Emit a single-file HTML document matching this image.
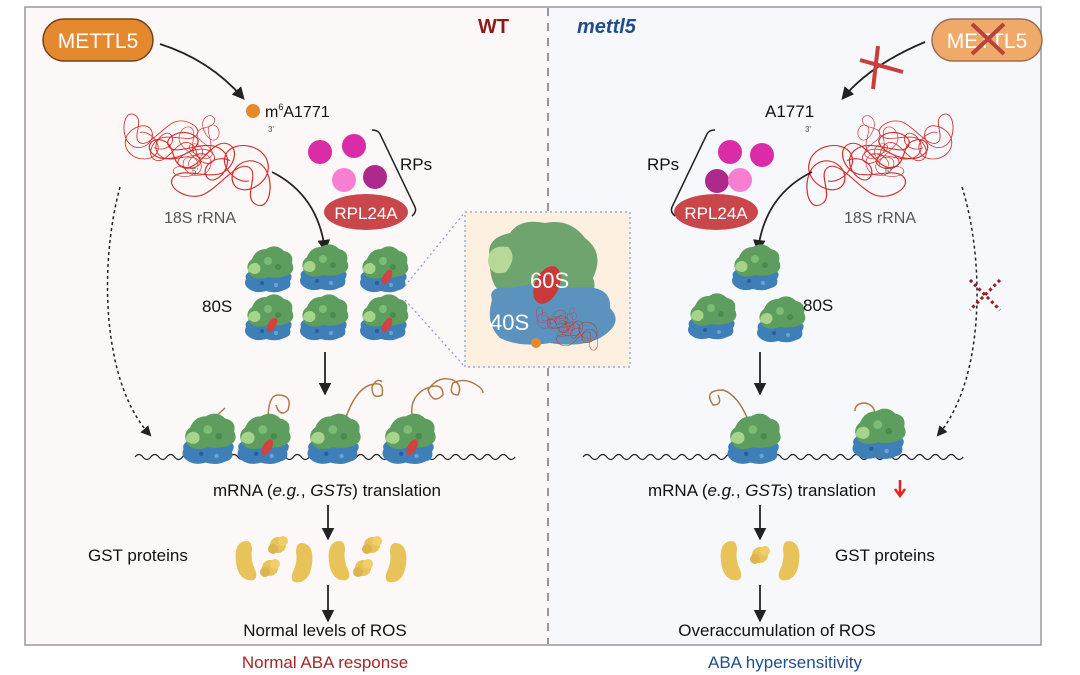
<!DOCTYPE html>
<html><head><meta charset="utf-8"><style>
html,body{margin:0;padding:0;background:#fff}
svg{display:block}
text{font-family:"Liberation Sans",sans-serif}
</style></head><body>
<svg width="1080" height="675" viewBox="0 0 1080 675" xmlns="http://www.w3.org/2000/svg">
<defs>
<marker id="ah" viewBox="0 0 10 10" refX="8" refY="5" markerWidth="7" markerHeight="7" orient="auto"><path d="M0,0L10,5L0,10z" fill="#222"/></marker>
<g id="rib">
 <path d="M-24,4 q-2,-6 6,-8 q8,-4 16,-1 q10,-3 20,2 q6,3 2,9 q2,7 -6,9 q-8,4 -18,1 q-10,3 -17,-2 q-6,-4 -3,-10z" fill="#3f7fb8"/>
 <circle cx="-8" cy="8" r="2" fill="#2c5f91"/><circle cx="6" cy="10" r="2" fill="#6aa3d4"/>
 <path d="M-20,0 q-6,-10 2,-16 q4,-10 14,-10 q10,-6 18,2 q10,2 8,12 q4,8 -4,12 q-10,4 -20,2 q-12,4 -18,-2z" fill="#5d9e5f"/>
 <path d="M-22,-4 q0,-8 8,-8 q6,2 4,8 q-4,6 -12,0z" fill="#a6d48a"/>
 <circle cx="-2" cy="-14" r="4" fill="#7cbc74"/><circle cx="8" cy="-8" r="3" fill="#4a8a4e"/>
</g>
<g id="ribR">
 <use href="#rib"/>
 <ellipse cx="2" cy="2" rx="4" ry="8" transform="rotate(30 2 2)" fill="#d2423f"/>
</g>
<g id="gst">
 <path d="M-8,-18 q10,-4 10,8 q-2,10 4,22 q2,10 -8,8 q-10,-2 -12,-18 q-2,-16 6,-20z" fill="#e8c35a"/>
</g>
<g id="gstb"><circle r="8" fill="#e8c35a"/><circle cx="5" cy="-4" r="5" fill="#f0cf6a"/><circle cx="-5" cy="4" r="5" fill="#ddb44e"/></g>
<path id="tangle" d="M0,0 c-20,-10 -40,10 -30,25 c10,15 40,-20 20,-40 c-20,-20 -60,10 -70,-5 c-10,-15 20,-30 35,-15 c15,15 -30,40 -50,30 c-20,-10 -10,-30 5,-25 c20,5 10,35 30,40 c20,5 35,-40 55,-35 c20,5 10,40 -10,45 c-20,5 -50,-10 -60,5 c-10,15 20,35 40,25 c20,-10 45,-50 60,-40 c15,10 -10,45 10,55 c20,10 25,-45 5,-60 c-20,-15 -45,10 -35,30 c10,20 50,0 45,-30 c-5,-30 -45,-35 -55,-15 c-10,20 15,45 30,40" fill="none" stroke="#d2302c" stroke-width="1.6"/>
<g id="tang2">
 <use href="#tangle" transform="translate(40,10) scale(0.8)"/>
 <use href="#tangle" transform="translate(-40,-5) rotate(180) scale(0.6)"/>
 <use href="#tangle" transform="translate(10,5) rotate(90) scale(0.45)"/>
</g>
<path id="mrna" d="M0,0 q4,-5 8,0 q4,5 8,0 q4,-5 8,0 q4,5 8,0 q4,-5 8,0 q4,5 8,0 q4,-5 8,0 q4,5 8,0 q4,-5 8,0 q4,5 8,0 q4,-5 8,0 q4,5 8,0 q4,-5 8,0 q4,5 8,0 q4,-5 8,0 q4,5 8,0 q4,-5 8,0 q4,5 8,0 q4,-5 8,0 q4,5 8,0 q4,-5 8,0 q4,5 8,0 q4,-5 8,0 q4,5 8,0 q4,-5 8,0 q4,5 8,0 q4,-5 8,0 q4,5 8,0 q4,-5 8,0 q4,5 8,0 q4,-5 8,0 q4,5 8,0 q4,-5 8,0 q4,5 8,0 q4,-5 8,0 q4,5 8,0 q4,-5 8,0 q4,5 8,0 q4,-5 8,0 q4,5 8,0 q4,-5 8,0 q4,5 8,0 q4,-5 8,0 q4,5 8,0 q4,-5 8,0 q4,5 8,0 q4,-5 8,0 q4,5 8,0" fill="none" stroke="#222" stroke-width="1.2"/>
</defs>

<rect x="25" y="7" width="523" height="638" fill="#fcf8f8"/>
<rect x="548" y="7" width="493" height="638" fill="#f7f8fc"/>
<rect x="25" y="7" width="1016" height="638" fill="none" stroke="#999" stroke-width="1.5"/>
<line x1="548" y1="8" x2="548" y2="644" stroke="#777" stroke-width="1.5" stroke-dasharray="8,7"/>

<text x="478" y="33" font-size="20" font-weight="bold" fill="#8b1a1a">WT</text>
<text x="577" y="33" font-size="20" font-weight="bold" font-style="italic" fill="#1f4e8c">mettl5</text>

<!-- LEFT -->
<rect x="43" y="19" width="110" height="42" rx="21" fill="#e5892f" stroke="#6e441c" stroke-width="1.5"/>
<text x="98" y="48" font-size="21" fill="#fff" text-anchor="middle">METTL5</text>
<path d="M160,44 Q210,60 243,98" fill="none" stroke="#222" stroke-width="1.8" marker-end="url(#ah)"/>
<g transform="translate(192,152) scale(0.95,0.85)"><use href="#tang2"/></g>
<circle cx="253" cy="111" r="7" fill="#e5892f"/>
<text x="265" y="117" font-size="16" fill="#111">m<tspan font-size="9" dy="-7">6</tspan><tspan dy="7">A1771</tspan></text>
<text x="268" y="132" font-size="8" fill="#555">3'</text>
<text x="192" y="174" font-size="8" fill="#555">5'</text>
<text x="200" y="223" font-size="16" fill="#555" text-anchor="middle">18S rRNA</text>
<circle cx="320" cy="152" r="12" fill="#d92ca6"/><circle cx="354" cy="146" r="12" fill="#d92ca6"/>
<circle cx="344" cy="180" r="12" fill="#f77fd2"/><circle cx="375" cy="177" r="12" fill="#ad2a8c"/>
<ellipse cx="366" cy="212" rx="42" ry="18" fill="#c9474a"/>
<text x="366" y="219" font-size="17" fill="#fff" text-anchor="middle">RPL24A</text>
<path d="M372,130 q6,0 8,4 l35,73 q2,5 -3,9" fill="none" stroke="#222" stroke-width="1.5"/>
<text x="400" y="170" font-size="17" fill="#111">RPs</text>
<path d="M272,172 Q318,195 325,250" fill="none" stroke="#222" stroke-width="1.8" marker-end="url(#ah)"/>
<use href="#rib" transform="translate(270,275)"/>
<use href="#rib" transform="translate(325,273)"/>
<use href="#ribR" transform="translate(385,275)"/>
<use href="#ribR" transform="translate(270,323)"/>
<use href="#rib" transform="translate(325,323)"/>
<use href="#ribR" transform="translate(385,323)"/>
<text x="202" y="312" font-size="17" fill="#111">80S</text>
<line x1="405" y1="286" x2="465" y2="212" stroke="#7f9fd8" stroke-width="1.2" stroke-dasharray="2,3"/>
<line x1="405" y1="300" x2="465" y2="367" stroke="#7f9fd8" stroke-width="1.2" stroke-dasharray="2,3"/>
<rect x="465" y="212" width="165" height="155" fill="#fdf0e0" stroke="#7f9fd8" stroke-width="1.2" stroke-dasharray="2,3"/>
<path d="M490,258 q-5,-20 20,-25 q10,-15 35,-10 q25,-5 40,15 q20,15 8,40 q8,20 -25,25 q-30,5 -55,-5 q-25,-5 -23,-40z" fill="#6ea56e"/>
<path d="M488,262 q0,-18 20,-15 q10,10 -2,25 q-15,5 -18,-10z" fill="#b8d89a"/>
<path d="M492,300 q-5,-15 20,-12 q30,-8 60,0 q40,-5 38,20 q15,15 -10,30 q-20,10 -50,5 q-30,5 -50,-5 q-15,-15 -8,-38z" fill="#5b93be"/>
<ellipse cx="547" cy="285" rx="12" ry="20" transform="rotate(25 547 285)" fill="#c9393a"/>
<g transform="translate(565,325) scale(0.4)"><use href="#tang2"/></g>
<circle cx="536" cy="343" r="5" fill="#e5892f"/>
<text x="530" y="288" font-size="22" fill="#fff">60S</text>
<text x="490" y="330" font-size="22" fill="#fff">40S</text>

<path d="M120,187 C100,260 100,380 150,435" fill="none" stroke="#222" stroke-width="1.5" stroke-dasharray="3,3" marker-end="url(#ah)"/>
<line x1="325" y1="352" x2="325" y2="393" stroke="#222" stroke-width="1.8" marker-end="url(#ah)"/>
<use href="#mrna" transform="translate(135,457) scale(0.99,1)"/>
<path d="M225,408 q-10,10 -20,15" fill="none" stroke="#b07a4a" stroke-width="1.5"/>
<path d="M268,420 q0,-25 10,-25 q15,0 10,15 q-8,8 -12,-5" fill="none" stroke="#b07a4a" stroke-width="1.5"/>
<path d="M345,420 q10,-30 25,-35 q15,-5 12,10 q-10,5 -10,-8 q5,-10 10,-5" fill="none" stroke="#b07a4a" stroke-width="1.5"/>
<path d="M413,420 q-5,-20 10,-30 q20,-10 20,5 q-10,10 -15,-5 q10,-15 25,-10 q10,5 5,15 q-10,0 -5,-12 q10,-5 20,0 q10,5 10,10" fill="none" stroke="#b07a4a" stroke-width="1.5"/>
<use href="#rib" transform="translate(210,445) scale(1.1)"/>
<use href="#ribR" transform="translate(265,445) scale(1.1)"/>
<use href="#rib" transform="translate(335,445) scale(1.1)"/>
<use href="#ribR" transform="translate(410,445) scale(1.1)"/>
<text x="327" y="496" font-size="17" fill="#111" text-anchor="middle">mRNA (<tspan font-style="italic">e.g.</tspan>, <tspan font-style="italic">GSTs</tspan>) translation</text>
<line x1="328" y1="505" x2="328" y2="538" stroke="#222" stroke-width="1.8" marker-end="url(#ah)"/>
<text x="88" y="561" font-size="17" fill="#111">GST proteins</text>
<use href="#gst" transform="translate(250,560)"/>
<use href="#gstb" transform="translate(278,545)"/><use href="#gstb" transform="translate(270,568)"/>
<use href="#gst" transform="translate(298,562) scale(-1,1)"/>
<use href="#gst" transform="translate(343,560)"/>
<use href="#gstb" transform="translate(372,545)"/><use href="#gstb" transform="translate(363,568)"/>
<use href="#gst" transform="translate(392,562) scale(-1,1)"/>
<line x1="328" y1="585" x2="328" y2="620" stroke="#222" stroke-width="1.8" marker-end="url(#ah)"/>
<text x="325" y="636" font-size="17" fill="#111" text-anchor="middle">Normal levels of ROS</text>
<text x="325" y="668" font-size="17" fill="#a02828" text-anchor="middle">Normal ABA response</text>

<!-- RIGHT -->
<rect x="932" y="19" width="110" height="42" rx="21" fill="#efaa6a" stroke="#9a7050" stroke-width="1.5"/>
<text x="987" y="48" font-size="21" fill="#fff" text-anchor="middle">METTL5</text>
<path d="M972,24 L1004,54 M1004,24 L972,54" stroke="#b8423e" stroke-width="4"/>
<path d="M925,42 Q870,65 843,98" fill="none" stroke="#222" stroke-width="1.8" marker-end="url(#ah)"/>
<path d="M860,60 L903,72 M878,46 L873,89" stroke="#c7403d" stroke-width="4"/>
<text x="765" y="117" font-size="17" fill="#111">A1771</text>
<text x="805" y="132" font-size="8" fill="#555">3'</text>
<g transform="translate(885,152) scale(-0.95,0.85)"><use href="#tang2"/></g>
<text x="885" y="174" font-size="8" fill="#555">5'</text>
<text x="880" y="223" font-size="16" fill="#555" text-anchor="middle">18S rRNA</text>
<circle cx="730" cy="152" r="12" fill="#d92ca6"/><circle cx="762" cy="155" r="12" fill="#d92ca6"/>
<circle cx="717" cy="181" r="12" fill="#ad2a8c"/><circle cx="740" cy="180" r="12" fill="#f77fd2"/>
<ellipse cx="716" cy="212" rx="42" ry="18" fill="#c9474a"/>
<text x="716" y="219" font-size="17" fill="#fff" text-anchor="middle">RPL24A</text>
<path d="M715,130 q-6,0 -8,4 l-35,73 q-2,5 3,9" fill="none" stroke="#222" stroke-width="1.5"/>
<text x="647" y="170" font-size="17" fill="#111">RPs</text>
<path d="M812,172 Q765,195 758,250" fill="none" stroke="#222" stroke-width="1.8" marker-end="url(#ah)"/>
<use href="#rib" transform="translate(757,273)"/>
<use href="#rib" transform="translate(713,322)"/>
<use href="#rib" transform="translate(782,325)"/>
<text x="803" y="311" font-size="17" fill="#111">80S</text>
<path d="M962,187 C985,260 985,380 938,435" fill="none" stroke="#222" stroke-width="1.5" stroke-dasharray="3,3" marker-end="url(#ah)"/>
<path d="M970,280 L1000,310 M1000,280 L970,310" stroke="#9b1c1c" stroke-width="3" stroke-dasharray="3,3"/>
<line x1="760" y1="352" x2="760" y2="393" stroke="#222" stroke-width="1.8" marker-end="url(#ah)"/>
<use href="#mrna" transform="translate(583,457) scale(0.99,1)"/>
<path d="M748,420 q-10,-25 -25,-30 q-20,0 -10,15 q10,0 5,-10" fill="none" stroke="#b07a4a" stroke-width="1.5"/>
<path d="M875,415 q0,-10 -10,-12 q-10,0 -10,8" fill="none" stroke="#b07a4a" stroke-width="1.5"/>
<use href="#rib" transform="translate(755,445) scale(1.1)"/>
<use href="#rib" transform="translate(880,440) scale(1.1)"/>
<text x="762" y="496" font-size="17" fill="#111" text-anchor="middle">mRNA (<tspan font-style="italic">e.g.</tspan>, <tspan font-style="italic">GSTs</tspan>) translation</text>
<path d="M900,480 L900,495 M895,489 L900,496 L905,489" stroke="#e8201e" stroke-width="2.5" fill="none"/>
<line x1="760" y1="505" x2="760" y2="538" stroke="#222" stroke-width="1.8" marker-end="url(#ah)"/>
<use href="#gst" transform="translate(735,560)"/>
<use href="#gstb" transform="translate(760,555)"/>
<use href="#gst" transform="translate(785,560) scale(-1,1)"/>
<text x="835" y="561" font-size="17" fill="#111">GST proteins</text>
<line x1="760" y1="585" x2="760" y2="620" stroke="#222" stroke-width="1.8" marker-end="url(#ah)"/>
<text x="777" y="636" font-size="17" fill="#111" text-anchor="middle">Overaccumulation of ROS</text>
<text x="785" y="668" font-size="17" fill="#1f4e8c" text-anchor="middle">ABA hypersensitivity</text>
</svg>
</body></html>
